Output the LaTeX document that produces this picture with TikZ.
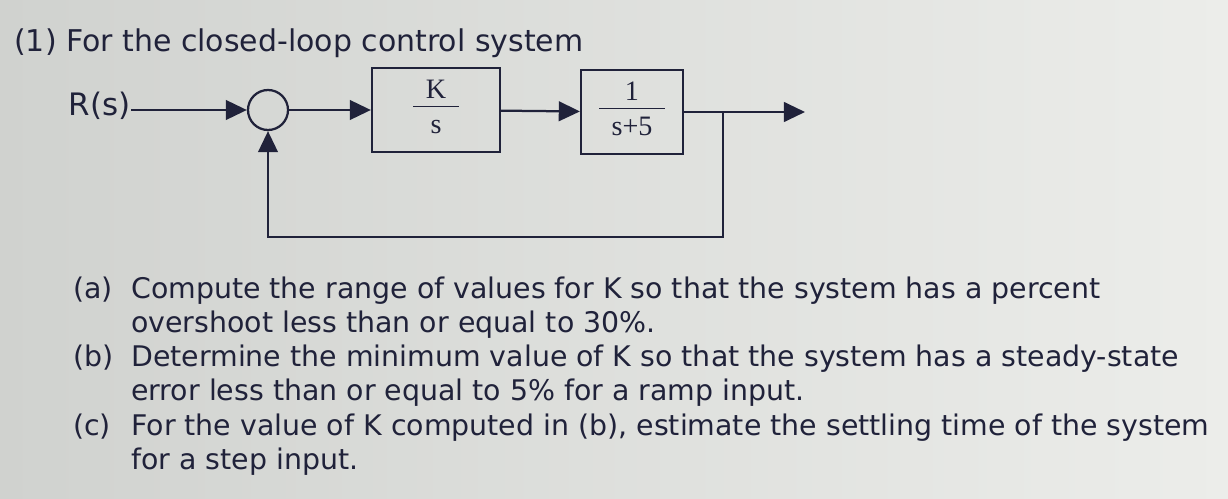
\documentclass[tikz,border=0pt]{standalone}
\usepackage{fontspec}
\setmainfont{DejaVu Sans}
\newfontfamily\blkfont{Liberation Serif}
\usetikzlibrary{arrows.meta}
\definecolor{ink}{RGB}{32,34,58}
\definecolor{paperL}{RGB}{208,210,207}
\definecolor{paperR}{RGB}{236,237,234}
% fraction inside a block
\newcommand{\blkfrac}[2]{{\blkfont\fontsize{20}{22}\selectfont
  \begin{tabular}{@{\;\,}c@{\;\,}}#1\\[-1pt]\hline\rule{0pt}{19pt}#2\end{tabular}}}

\begin{document}
\begin{tikzpicture}[x=0.025cm,y=-0.025cm,
    font=\fontsize{20.2}{24}\selectfont,
    every node/.style={text=ink,inner sep=0pt},
    wire/.style={draw=ink,line width=1.6pt},
    sig/.style={wire,-{Triangle[length=15pt,width=14pt]}},
    blk/.style={draw=ink,line width=1.6pt,minimum height=2.1cm}]
    \shade[left color=paperL,right color=paperR] (0,0) rectangle (1228,499);
    \useasboundingbox (0,0) rectangle (1228,499);

    % title
    \node[anchor=base west,font=\fontsize{21.3}{25}\selectfont] (title) at (14,52) {(1) For the closed-loop control system};

    % block diagram
    \node[anchor=east,font=\fontsize{22}{25}\selectfont] (in) at (131,106) {R(s)};
    \node[draw=ink,line width=1.6pt,circle,minimum size=1cm] (sum) at (268,110) {};
    \node[blk,minimum width=3.2cm] (ctrl) at (436,110) {\blkfrac{K}{s}};
    \node[blk,minimum width=2.55cm] (plant) at (632,112) {\blkfrac{1}{s+5}};
    \coordinate (split) at (723,112);
    \coordinate (out) at (805,112);
    \coordinate (fb) at (723,237);

    \draw[sig] (in.east |- sum) -- (sum);
    \draw[sig] (sum) -- (ctrl);
    \draw[sig] (ctrl) -- (plant);
    \draw[sig] (plant) -- (out);
    \draw[sig] (split) -- (fb) -| (sum);

    % questions
    \foreach \lab/\y/\lineA/\lineB in {
        (a)/298/{Compute the range of values for K so that the system has a percent}/{overshoot less than or equal to 30\%.},
        (b)/366/{Determine the minimum value of K so that the system has a steady-state}/{error less than or equal to 5\% for a ramp input.},
        (c)/435/{For the value of K computed in (b), estimate the settling time of the system}/{for a step input.}} {
        \node[anchor=base west] at (73,\y) {\lab};
        \node[anchor=base west] at (131,\y) {\lineA};
        \node[anchor=base west] at (131,\y+34) {\lineB};
    }
\end{tikzpicture}
\end{document}
